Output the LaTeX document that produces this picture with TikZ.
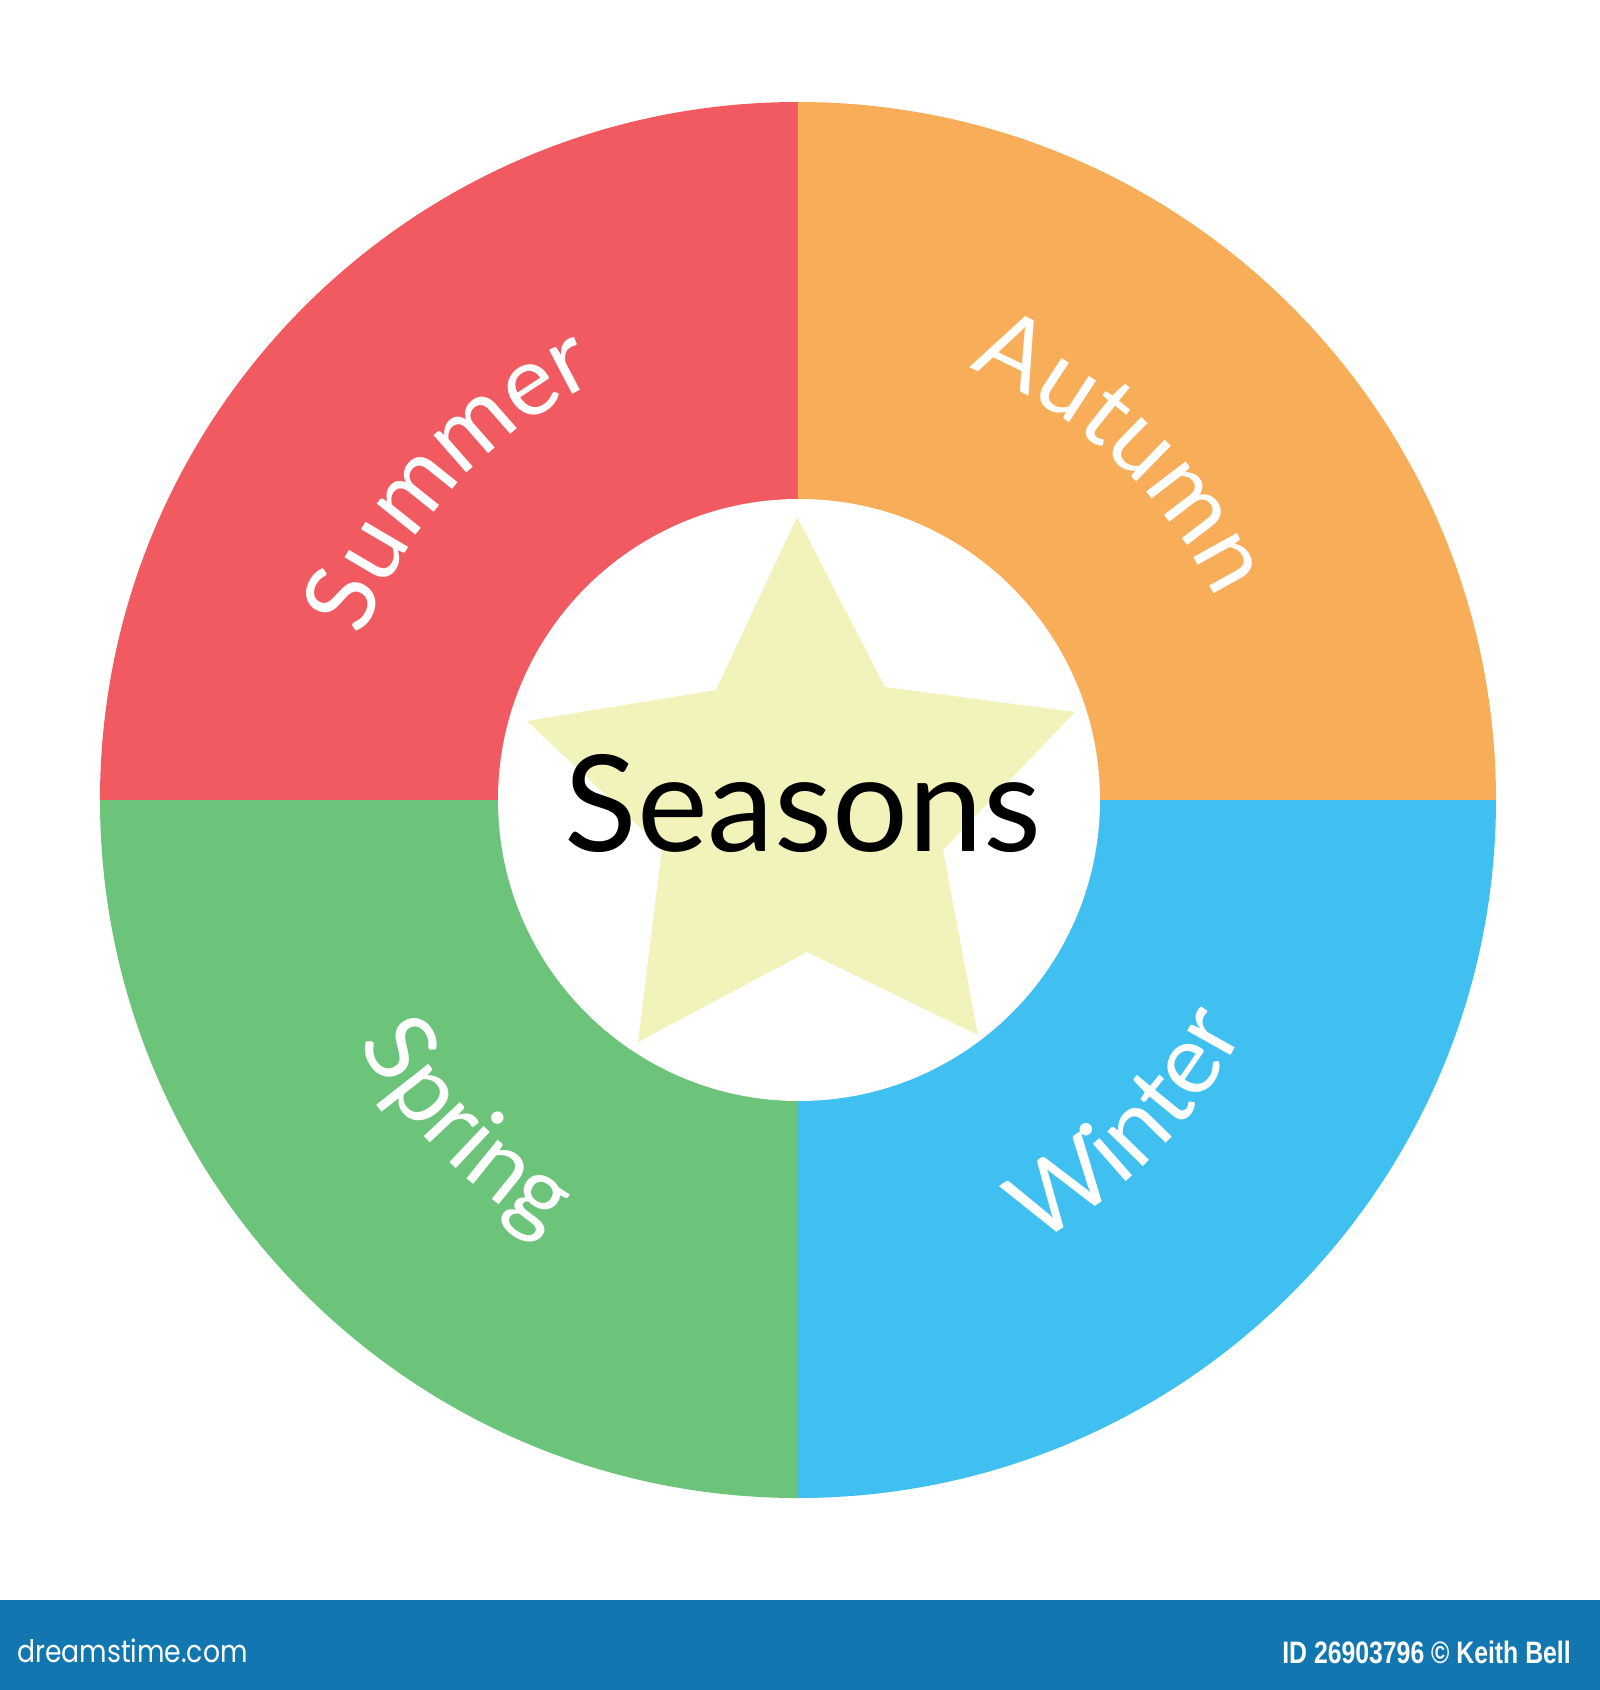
\documentclass[tikz,border=0pt]{standalone}
\usepackage{fontspec}
\setmainfont{Lato}
\newfontfamily\idfont{Liberation Sans}
\newfontfamily\logofont{Poppins}
\usetikzlibrary{decorations.text}
\definecolor{summerc}{HTML}{F05A60}
\definecolor{autumnc}{HTML}{F8AE58}
\definecolor{springc}{HTML}{6CC47A}
\definecolor{winterc}{HTML}{40C0F0}
\definecolor{starc}{HTML}{F2F3BA}
\definecolor{barc}{HTML}{1277B0}
\newcommand{\seasonfont}{\fontsize{98}{104}\selectfont\color{white}}
\tikzset{
  ringlabel/.style={decorate, decoration={text along path, text align=center, text={|\seasonfont|#1}}},
}
\begin{document}
\begin{tikzpicture}[x=1pt,y=1pt]
\useasboundingbox (-798,-890) rectangle (802,800);
\fill[white] (-798,-890) rectangle (802,800);
% sectors
\fill[summerc] (0,0) -- (90:698) arc[start angle=90,end angle=180,radius=698] -- cycle;
\fill[autumnc] (0,0) -- (0:698) arc[start angle=0,end angle=90,radius=698] -- cycle;
\fill[springc] (0,0) -- (180:698) arc[start angle=180,end angle=270,radius=698] -- cycle;
\fill[winterc] (0,0) -- (270:698) arc[start angle=270,end angle=360,radius=698] -- cycle;
% inner circle
\fill[white] (1,0) circle[radius=301];
% star
\fill[starc] (-1,283) -- (87,113) -- (277,88) -- (145,-50) -- (180,-235) -- (9,-152)
  -- (-160,-242) -- (-136,-48) -- (-271,79) -- (-82,110) -- cycle;
\node[font=\fontsize{134}{140}\selectfont, anchor=base, inner sep=0pt] (title) at (5,-51) {Seasons};
% curved labels
\path[ringlabel=Summer] (167.5:464) arc[start angle=167.5,end angle=107.5,radius=464];
\path[ringlabel=Autumn] (77:464) arc[start angle=77,end angle=17,radius=464];
\path[ringlabel=Spring] (184.5:503) arc[start angle=184.5,end angle=264.5,radius=503];
\path[ringlabel=Winter] (275.5:503) arc[start angle=275.5,end angle=355.5,radius=503];
% bottom bar
\fill[barc] (-798,-890) rectangle (802,-800);
\node[anchor=base west, inner sep=0pt, text=white, font=\logofont\fontsize{31}{36}\selectfont] (logo) at (-781,-862) {\scalebox{0.86}[1]{dreamstime.com}};
\node[anchor=base east, inner sep=0pt, text=white, font=\idfont\bfseries\fontsize{31}{36}\selectfont] (credit) at (773,-863) {\scalebox{0.8}[1]{ID 26903796 © Keith Bell}};
\end{tikzpicture}
\end{document}
